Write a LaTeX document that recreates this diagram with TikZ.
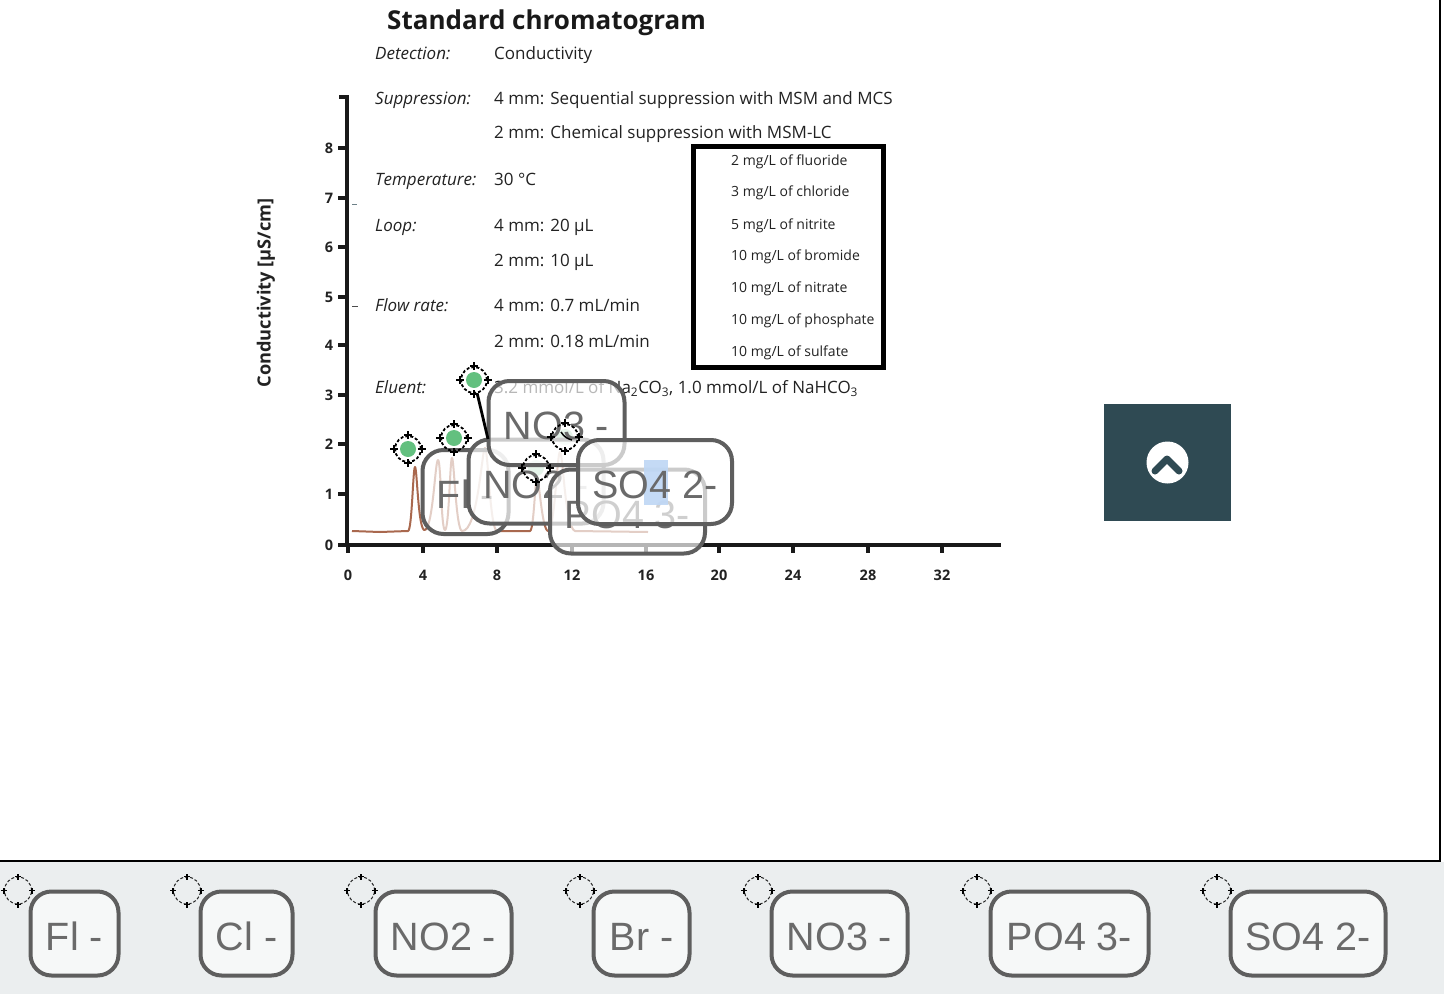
\documentclass[tikz,border=0pt]{standalone}
\usepackage{fontspec}
\setmainfont{Open Sans}
\newfontfamily\chipfont{Liberation Sans}
\usetikzlibrary{shapes.geometric}
\definecolor{chipedge}{HTML}{5E5E5E}
\definecolor{chiptext}{HTML}{6A6A6A}
\definecolor{chipfill}{HTML}{F6F8F8}
\definecolor{trayfill}{HTML}{EBEEEF}
\definecolor{teal}{HTML}{2F4A53}
\definecolor{trace}{HTML}{A9684E}
\definecolor{dotgreen}{HTML}{63C07F}
\definecolor{chartink}{HTML}{222222}
\definecolor{selblue}{HTML}{BFD7F5}
\tikzset{
  axisline/.style={line width=3.4pt,draw=black!90},
  ticklabel/.style={font=\fontsize{14.5}{15}\selectfont\bfseries,text=chartink,inner sep=0pt},
  keytext/.style={font=\fontsize{17}{18}\selectfont\itshape,text=chartink,anchor=west,inner sep=0pt,text height=15pt,text depth=2pt},
  valtext/.style={font=\fontsize{17}{18}\selectfont,text=chartink,anchor=west,inner sep=0pt,text height=15pt,text depth=2pt},
  stdtext/.style={font=\fontsize{14}{14}\selectfont,text=chartink,anchor=west,inner sep=0pt,text height=11pt,text depth=1pt},
  chipbase/.style={draw=chipedge,line width=4pt,rounded corners=21pt,minimum height=84pt,inner sep=0pt,
     font=\chipfont\fontsize{39.5}{40}\selectfont,text=chiptext,text height=35pt,text depth=2pt},
  traychip/.style={chipbase,fill=chipfill},
  placedchip/.style={chipbase,fill=white,fill opacity=.68,text opacity=1,draw opacity=1},
  bareword/.style={inner sep=0pt,font=\chipfont\fontsize{39.5}{40}\selectfont,text=chiptext,text height=35pt,text depth=2pt},
  ringhandle/.style={circle,draw=black,densely dashed,line width=1.8pt,minimum size=26pt,inner sep=0pt},
  trayhandle/.style={circle,draw=black!85,densely dashed,line width=1pt,minimum size=27pt,inner sep=0pt},
  greendot/.style={circle,fill=dotgreen,minimum size=16pt,inner sep=0pt},
  paledot/.style={circle,fill=dotgreen!50,minimum size=16pt,inner sep=0pt},
  crossline/.style={line width=1.8pt,draw=black},
  traycross/.style={line width=1.3pt,draw=black},
  wire/.style={line width=2.8pt,draw=black},
}
\newcommand{\crossmarks}[3]{%
  \foreach \a in {north,south,east,west}{
    \draw[#3] ([xshift=-#2pt]#1.\a) -- ([xshift=#2pt]#1.\a);
    \draw[#3] ([yshift=-#2pt]#1.\a) -- ([yshift=#2pt]#1.\a);
  }}
\begin{document}
\begin{tikzpicture}[x=1pt,y=-1pt]
\useasboundingbox (0,0) rectangle (1444,996);
\fill[white] (0,0) rectangle (1444,996);
% tray and frame
\fill[trayfill] (0,862) rectangle (1444,994);
\draw[line width=2pt,black] (0,861) -- (1440,861) -- (1440,0);
% title and conditions
\node[font=\fontsize{26}{27}\selectfont\bfseries,text=black!90,anchor=west,inner sep=0pt] (title) at (387,23) {Standard chromatogram};
\node[keytext] (k1) at (375,53) {Detection:};
\node[valtext] (v1) at (494,53) {Conductivity};
\node[keytext] (k2) at (375,98) {Suppression:};
\node[valtext] (v2) at (494,98) {4 mm: Sequential suppression with MSM and MCS};
\node[valtext] (v3) at (494,132) {2 mm: Chemical suppression with MSM-LC};
\node[keytext] (k3) at (375,179) {Temperature:};
\node[valtext] (v4) at (494,179) {30 °C};
\node[keytext] (k4) at (375,225) {Loop:};
\node[valtext] (v5) at (494,225) {4 mm: 20 µL};
\node[valtext] (v6) at (494,260) {2 mm: 10 µL};
\node[keytext] (k5) at (375,305) {Flow rate:};
\node[valtext] (v7) at (494,305) {4 mm: 0.7 mL/min};
\node[valtext] (v8) at (494,341) {2 mm: 0.18 mL/min};
\node[keytext] (k6) at (375,387) {Eluent:};
\node[valtext] (v9) at (494,387) {3.2 mmol/L of Na\textsubscript{2}CO\textsubscript{3}, 1.0 mmol/L of NaHCO\textsubscript{3}};
% standards box
\draw[line width=5pt,black] (693,146) rectangle (883,367);
\node[stdtext] (s1) at (731,160) {2 mg/L of fluoride};
\node[stdtext] (s2) at (731,191) {3 mg/L of chloride};
\node[stdtext] (s3) at (731,224) {5 mg/L of nitrite};
\node[stdtext] (s4) at (731,255) {10 mg/L of bromide};
\node[stdtext] (s5) at (731,287) {10 mg/L of nitrate};
\node[stdtext] (s6) at (731,319) {10 mg/L of phosphate};
\node[stdtext] (s7) at (731,351) {10 mg/L of sulfate};
% axes
\draw[axisline] (339,97) -- (347,97) -- (347,545);
\draw[axisline] (339,545) -- (1001,545);
\foreach \v/\y in {0/545,1/494,2/444,3/395,4/345,5/297,6/247,7/198,8/148}{
  \draw[axisline] (338,\y) -- (347,\y);
  \node[ticklabel] (yl\v) at (329,\y) {\v};
}
\foreach \v/\x in {0/348,4/423,8/497,12/572,16/646,20/719,24/793,28/868,32/942}{
  \draw[line width=3.4pt,black!90] (\x,545) -- (\x,553);
  \node[ticklabel] (xl\v) at (\x,575) {\v};
}
\node[rotate=90,font=\fontsize{18.2}{19}\selectfont\bfseries,text=chartink,inner sep=0pt] (ylabel) at (266,293) {Conductivity [µS/cm]};
\draw[line width=1pt,teal!70] (352,204) -- (357,204);
\draw[line width=1pt,black!70] (352,306) -- (358,306);
% trace
\draw[trace,line width=2pt,line join=round] (352,531) -- (380,532) -- (408,531)
  .. controls (412,531) and (413,467) .. (415,467) .. controls (417,467) and (418,526) .. (424,530)
  .. controls (433,532) and (435,460) .. (438,460) .. controls (441,460) and (441,530) .. (445,530)
  .. controls (449,530) and (450,458) .. (452,458) .. controls (454,458) and (456,530) .. (462,531)
  .. controls (478,532) and (482,448) .. (485,448) .. controls (488,448) and (490,530) .. (497,531)
  -- (530,531) .. controls (534,530) and (535,478) .. (537,478) .. controls (539,478) and (542,530) .. (548,531)
  .. controls (555,530) and (557,452) .. (560,452) .. controls (563,452) and (565,528) .. (575,531)
  -- (648,532);
% green dots below the chips
\node[paledot] (dBr) at (536,468) {};
\node[paledot] (dCl) at (565,437) {};
% placed chips, back to front
\node[placedchip,minimum width=86pt] (pFl) at (465.5,492) {Fl -};
\node[placedchip,minimum width=135pt] (pNOtwo) at (536,481.5) {NO2 -};
\node[placedchip,minimum width=136pt] (pNOthree) at (556.5,423) {NO3 -};
\node[placedchip,minimum width=155pt] (pPO) at (627.5,511.5) {PO4 3-};
\node[placedchip,minimum width=154pt] (pSO) at (655,482) {};
\fill[selblue,opacity=.92] (644,460) rectangle (668,505);
\node[bareword] (pSOword) at (pSO.center) {SO4 2-};
% placed handles
\foreach \n/\x/\y in {hFl/408/449,hCl/454/438,hNOthree/474/380}{
  \node[greendot] at (\x,\y) {};
  \node[ringhandle] (\n) at (\x,\y) {};
  \crossmarks{\n}{4}{crossline}
}
\foreach \n/\x/\y in {hBr/536/468,hX/565/437}{
  \node[ringhandle] (\n) at (\x,\y) {};
  \crossmarks{\n}{4}{crossline}
}
\coordinate (wireEnd) at (488,439);
\draw[wire] (hNOthree) -- (wireEnd);
\coordinate (tickA) at (561,432);
\coordinate (tickB) at (572,440);
\draw[line width=1.5pt,black] (tickA) .. controls (564,437) and (568,439) .. (tickB);
% scroll button
\node[rectangle,fill=teal,minimum width=127pt,minimum height=117pt,inner sep=0pt] (btn) at (1167.5,462.5) {};
\node[circle,fill=white,minimum size=42pt,inner sep=0pt] (btnDisc) at (btn.center) {};
\coordinate (chevA) at (1155,471);
\coordinate (chevB) at (1167,459);
\coordinate (chevC) at (1179,471);
\draw[teal,line width=7pt,line cap=round,line join=round] (chevA) -- (chevB) -- (chevC);
% tray handles, under the tray chips
\foreach \n/\x in {tFl/18,tCl/187,tNOtwo/361,tBr/580,tNOthree/758,tPO/977,tSO/1217}{
  \node[trayhandle] (\n) at (\x,890.5) {};
  \crossmarks{\n}{3}{traycross}
}
% tray chips
\node[traychip,minimum width=88pt] (cFl) at (74.5,933.5) {Fl -};
\node[traychip,minimum width=92pt] (cCl) at (246.5,933.5) {Cl -};
\node[traychip,minimum width=136pt] (cNOtwo) at (443.5,933.5) {NO2 -};
\node[traychip,minimum width=96pt] (cBr) at (641.5,933.5) {Br -};
\node[traychip,minimum width=136pt] (cNOthree) at (839.5,933.5) {NO3 -};
\node[traychip,minimum width=158pt] (cPO) at (1069.5,933.5) {PO4 3-};
\node[traychip,minimum width=155pt] (cSO) at (1308,933.5) {SO4 2-};
\end{tikzpicture}
\end{document}
